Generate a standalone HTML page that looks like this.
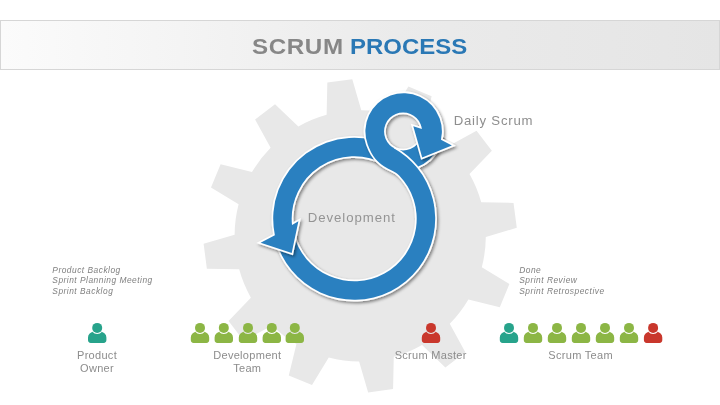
<!DOCTYPE html>
<html><head><meta charset="utf-8"><title>Scrum Process</title>
<style>
html,body{margin:0;padding:0;background:#fff;}
body{width:720px;height:405px;overflow:hidden;position:relative;font-family:"Liberation Sans",sans-serif;}
#txt{position:absolute;left:0;top:0;width:720px;height:405px;will-change:transform;transform:translateZ(0);}
#hdr{position:absolute;left:0;top:20px;width:718px;height:48px;border:1px solid #d6d6d6;background:linear-gradient(90deg,#fbfbfb 0%,#f4f4f4 25%,#ebebeb 55%,#e5e5e5 100%);}
#title{position:absolute;left:0;top:21.5px;width:720px;height:50px;line-height:50px;font-weight:bold;font-size:22.4px;color:#878787;letter-spacing:1.45px;white-space:nowrap;will-change:transform;transform:translateZ(0);}
#title b{color:#2a78b5;}
svg{position:absolute;left:0;top:0;}
.lbl{position:absolute;color:#8c8c8c;font-size:11px;line-height:13px;letter-spacing:0.3px;text-align:center;white-space:nowrap;transform:translateX(-50%);}
.big{position:absolute;color:#949494;font-size:13.2px;white-space:nowrap;line-height:16px;}
.it{position:absolute;color:#808080;font-size:8.4px;line-height:10.7px;letter-spacing:0.5px;font-style:italic;white-space:nowrap;}
</style></head><body>
<div id="hdr"></div>
<div id="title"><span style="position:absolute;left:251.9px;letter-spacing:0.56px;transform:scaleX(1.08);transform-origin:0 0;">SCRUM</span><b style="position:absolute;left:349.6px;letter-spacing:0;transform:scaleX(1.07);transform-origin:0 0;">PROCESS</b></div>
<svg width="720" height="405" viewBox="0 0 720 405">
<defs>
<filter id="sh" x="-20%" y="-20%" width="140%" height="140%"><feDropShadow dx="1.5" dy="1.7" stdDeviation="1.8" flood-color="#000" flood-opacity="0.46"/></filter>
<path id="pa" d="M393.47 147.96 A81.00 81.00 0 0 0 274.88 235.23 L260.60 242.70 L291.70 253.10 L298.40 221.30 L292.01 225.01 A62.50 62.50 0 0 1 384.50 164.14 Z"/>
<path id="pb" d="M275.61 238.40 A81.00 81.00 0 1 0 416.75 167.34 A38.25 38.25 0 1 0 367.71 144.48 C376.76 169.34 391.50 167.45 399.16 175.38 A62.50 62.50 0 1 1 293.56 233.92 Z M384.07 131.55 a19.00 19.00 0 1 0 38.00 0 a19.00 19.00 0 1 0 -38.00 0 Z" fill-rule="evenodd"/>
<path id="ph" d="M406.37 112.84 A19.00 19.00 0 0 1 421.88 128.91 L413.30 126.30 L422.20 157.40 L451.90 145.60 L440.99 139.68 A38.25 38.25 0 0 0 410.29 93.73 Z"/>
<clipPath id="cpb"><rect x="340" y="80" width="140" height="125"/></clipPath>
<clipPath id="cpb2"><path clip-rule="evenodd" d="M0 0H720V405H0Z M340 80H480V205H340Z"/></clipPath>
<clipPath id="cph"><path d="M361.20 96.34 L507.13 169.30 L471.35 240.86 L325.42 167.89Z"/></clipPath>
</defs>
<path d="M485.80 236.90 L516.80 227.87 L513.52 202.93 L481.23 202.23 A125.60 125.60 0 0 0 469.52 173.95 L491.85 150.63 L476.54 130.68 L448.23 146.22 A125.60 125.60 0 0 0 423.95 127.58 L431.63 96.21 L408.39 86.59 L391.65 114.20 A125.60 125.60 0 0 0 361.30 110.20 L352.27 79.20 L327.33 82.48 L326.63 114.77 A125.60 125.60 0 0 0 298.35 126.48 L275.03 104.15 L255.08 119.46 L270.62 147.77 A125.60 125.60 0 0 0 251.98 172.05 L220.61 164.37 L210.99 187.61 L238.60 204.35 A125.60 125.60 0 0 0 234.60 234.70 L203.60 243.73 L206.88 268.67 L239.17 269.37 A125.60 125.60 0 0 0 250.88 297.65 L228.55 320.97 L243.86 340.92 L272.17 325.38 A125.60 125.60 0 0 0 296.45 344.02 L288.77 375.39 L312.01 385.01 L328.75 357.40 A125.60 125.60 0 0 0 359.10 361.40 L368.13 392.40 L393.07 389.12 L393.77 356.83 A125.60 125.60 0 0 0 422.05 345.12 L445.37 367.45 L465.32 352.14 L449.78 323.83 A125.60 125.60 0 0 0 468.42 299.55 L499.79 307.23 L509.41 283.99 L481.80 267.25 A125.60 125.60 0 0 0 485.80 236.90 Z" fill="#e8e8e8"/>
<g fill="#2c80c0" stroke="#fff" stroke-width="3.4" stroke-linejoin="miter" paint-order="stroke">
<g clip-path="url(#cpb2)"><use href="#pb" filter="url(#sh)"/></g>
<use href="#pa" filter="url(#sh)"/>
<g clip-path="url(#cpb)"><use href="#pb" filter="url(#sh)"/></g>
<path d="M417.59 167.02 A81.85 81.85 0 0 0 394.20 147.39" fill="none" stroke-width="1.7"/>
<g clip-path="url(#cph)"><use href="#ph" filter="url(#sh)"/></g>
</g>
<g fill="#27a38b"><path d="M90.80 342.90 H103.60 a2.8 2.8 0 0 0 2.8 -2.8 V337.50 a5.8 5.8 0 0 0 -5.8 -5.8 H101.97 A6.1 6.1 0 0 1 92.43 331.70 H93.80 a5.8 5.8 0 0 0 -5.8 5.8 V340.10 a2.8 2.8 0 0 0 2.8 2.8 Z"/><circle cx="97.2" cy="327.9" r="5"/></g><g fill="#8cb645"><path d="M193.60 342.90 H206.40 a2.8 2.8 0 0 0 2.8 -2.8 V337.50 a5.8 5.8 0 0 0 -5.8 -5.8 H204.77 A6.1 6.1 0 0 1 195.23 331.70 H196.60 a5.8 5.8 0 0 0 -5.8 5.8 V340.10 a2.8 2.8 0 0 0 2.8 2.8 Z"/><circle cx="200.0" cy="327.9" r="5"/></g><g fill="#8cb645"><path d="M217.40 342.90 H230.20 a2.8 2.8 0 0 0 2.8 -2.8 V337.50 a5.8 5.8 0 0 0 -5.8 -5.8 H228.57 A6.1 6.1 0 0 1 219.03 331.70 H220.40 a5.8 5.8 0 0 0 -5.8 5.8 V340.10 a2.8 2.8 0 0 0 2.8 2.8 Z"/><circle cx="223.8" cy="327.9" r="5"/></g><g fill="#8cb645"><path d="M241.60 342.90 H254.40 a2.8 2.8 0 0 0 2.8 -2.8 V337.50 a5.8 5.8 0 0 0 -5.8 -5.8 H252.77 A6.1 6.1 0 0 1 243.23 331.70 H244.60 a5.8 5.8 0 0 0 -5.8 5.8 V340.10 a2.8 2.8 0 0 0 2.8 2.8 Z"/><circle cx="248.0" cy="327.9" r="5"/></g><g fill="#8cb645"><path d="M265.40 342.90 H278.20 a2.8 2.8 0 0 0 2.8 -2.8 V337.50 a5.8 5.8 0 0 0 -5.8 -5.8 H276.57 A6.1 6.1 0 0 1 267.03 331.70 H268.40 a5.8 5.8 0 0 0 -5.8 5.8 V340.10 a2.8 2.8 0 0 0 2.8 2.8 Z"/><circle cx="271.8" cy="327.9" r="5"/></g><g fill="#8cb645"><path d="M288.40 342.90 H301.20 a2.8 2.8 0 0 0 2.8 -2.8 V337.50 a5.8 5.8 0 0 0 -5.8 -5.8 H299.57 A6.1 6.1 0 0 1 290.03 331.70 H291.40 a5.8 5.8 0 0 0 -5.8 5.8 V340.10 a2.8 2.8 0 0 0 2.8 2.8 Z"/><circle cx="294.8" cy="327.9" r="5"/></g><g fill="#c9372c"><path d="M424.60 342.90 H437.40 a2.8 2.8 0 0 0 2.8 -2.8 V337.50 a5.8 5.8 0 0 0 -5.8 -5.8 H435.77 A6.1 6.1 0 0 1 426.23 331.70 H427.60 a5.8 5.8 0 0 0 -5.8 5.8 V340.10 a2.8 2.8 0 0 0 2.8 2.8 Z"/><circle cx="431.0" cy="327.9" r="5"/></g><g fill="#27a38b"><path d="M502.60 342.90 H515.40 a2.8 2.8 0 0 0 2.8 -2.8 V337.50 a5.8 5.8 0 0 0 -5.8 -5.8 H513.77 A6.1 6.1 0 0 1 504.23 331.70 H505.60 a5.8 5.8 0 0 0 -5.8 5.8 V340.10 a2.8 2.8 0 0 0 2.8 2.8 Z"/><circle cx="509.0" cy="327.9" r="5"/></g><g fill="#8cb645"><path d="M526.60 342.90 H539.40 a2.8 2.8 0 0 0 2.8 -2.8 V337.50 a5.8 5.8 0 0 0 -5.8 -5.8 H537.77 A6.1 6.1 0 0 1 528.23 331.70 H529.60 a5.8 5.8 0 0 0 -5.8 5.8 V340.10 a2.8 2.8 0 0 0 2.8 2.8 Z"/><circle cx="533.0" cy="327.9" r="5"/></g><g fill="#8cb645"><path d="M550.60 342.90 H563.40 a2.8 2.8 0 0 0 2.8 -2.8 V337.50 a5.8 5.8 0 0 0 -5.8 -5.8 H561.77 A6.1 6.1 0 0 1 552.23 331.70 H553.60 a5.8 5.8 0 0 0 -5.8 5.8 V340.10 a2.8 2.8 0 0 0 2.8 2.8 Z"/><circle cx="557.0" cy="327.9" r="5"/></g><g fill="#8cb645"><path d="M574.60 342.90 H587.40 a2.8 2.8 0 0 0 2.8 -2.8 V337.50 a5.8 5.8 0 0 0 -5.8 -5.8 H585.77 A6.1 6.1 0 0 1 576.23 331.70 H577.60 a5.8 5.8 0 0 0 -5.8 5.8 V340.10 a2.8 2.8 0 0 0 2.8 2.8 Z"/><circle cx="581.0" cy="327.9" r="5"/></g><g fill="#8cb645"><path d="M598.60 342.90 H611.40 a2.8 2.8 0 0 0 2.8 -2.8 V337.50 a5.8 5.8 0 0 0 -5.8 -5.8 H609.77 A6.1 6.1 0 0 1 600.23 331.70 H601.60 a5.8 5.8 0 0 0 -5.8 5.8 V340.10 a2.8 2.8 0 0 0 2.8 2.8 Z"/><circle cx="605.0" cy="327.9" r="5"/></g><g fill="#8cb645"><path d="M622.60 342.90 H635.40 a2.8 2.8 0 0 0 2.8 -2.8 V337.50 a5.8 5.8 0 0 0 -5.8 -5.8 H633.77 A6.1 6.1 0 0 1 624.23 331.70 H625.60 a5.8 5.8 0 0 0 -5.8 5.8 V340.10 a2.8 2.8 0 0 0 2.8 2.8 Z"/><circle cx="629.0" cy="327.9" r="5"/></g><g fill="#c9372c"><path d="M646.70 342.90 H659.50 a2.8 2.8 0 0 0 2.8 -2.8 V337.50 a5.8 5.8 0 0 0 -5.8 -5.8 H657.87 A6.1 6.1 0 0 1 648.33 331.70 H649.70 a5.8 5.8 0 0 0 -5.8 5.8 V340.10 a2.8 2.8 0 0 0 2.8 2.8 Z"/><circle cx="653.1" cy="327.9" r="5"/></g>
</svg>
<div id="txt">
<div class="big" style="left:453.7px;top:112.5px;letter-spacing:0.78px;color:#8e8e8e;">Daily Scrum</div>
<div class="big" style="left:307.7px;top:209.6px;letter-spacing:0.95px;">Development</div>
<div class="it" style="left:52.3px;top:264.7px;">Product Backlog<br>Sprint Planning Meeting<br>Sprint Backlog</div>
<div class="it" style="left:519.2px;top:264.5px;">Done<br>Sprint Review<br>Sprint Retrospective</div>
<div class="lbl" style="left:97px;top:348.7px;">Product<br>Owner</div>
<div class="lbl" style="left:247.3px;top:348.7px;">Development<br>Team</div>
<div class="lbl" style="left:430.7px;top:348.7px;">Scrum Master</div>
<div class="lbl" style="left:580.6px;top:348.7px;">Scrum Team</div>
</div>
</body></html>
